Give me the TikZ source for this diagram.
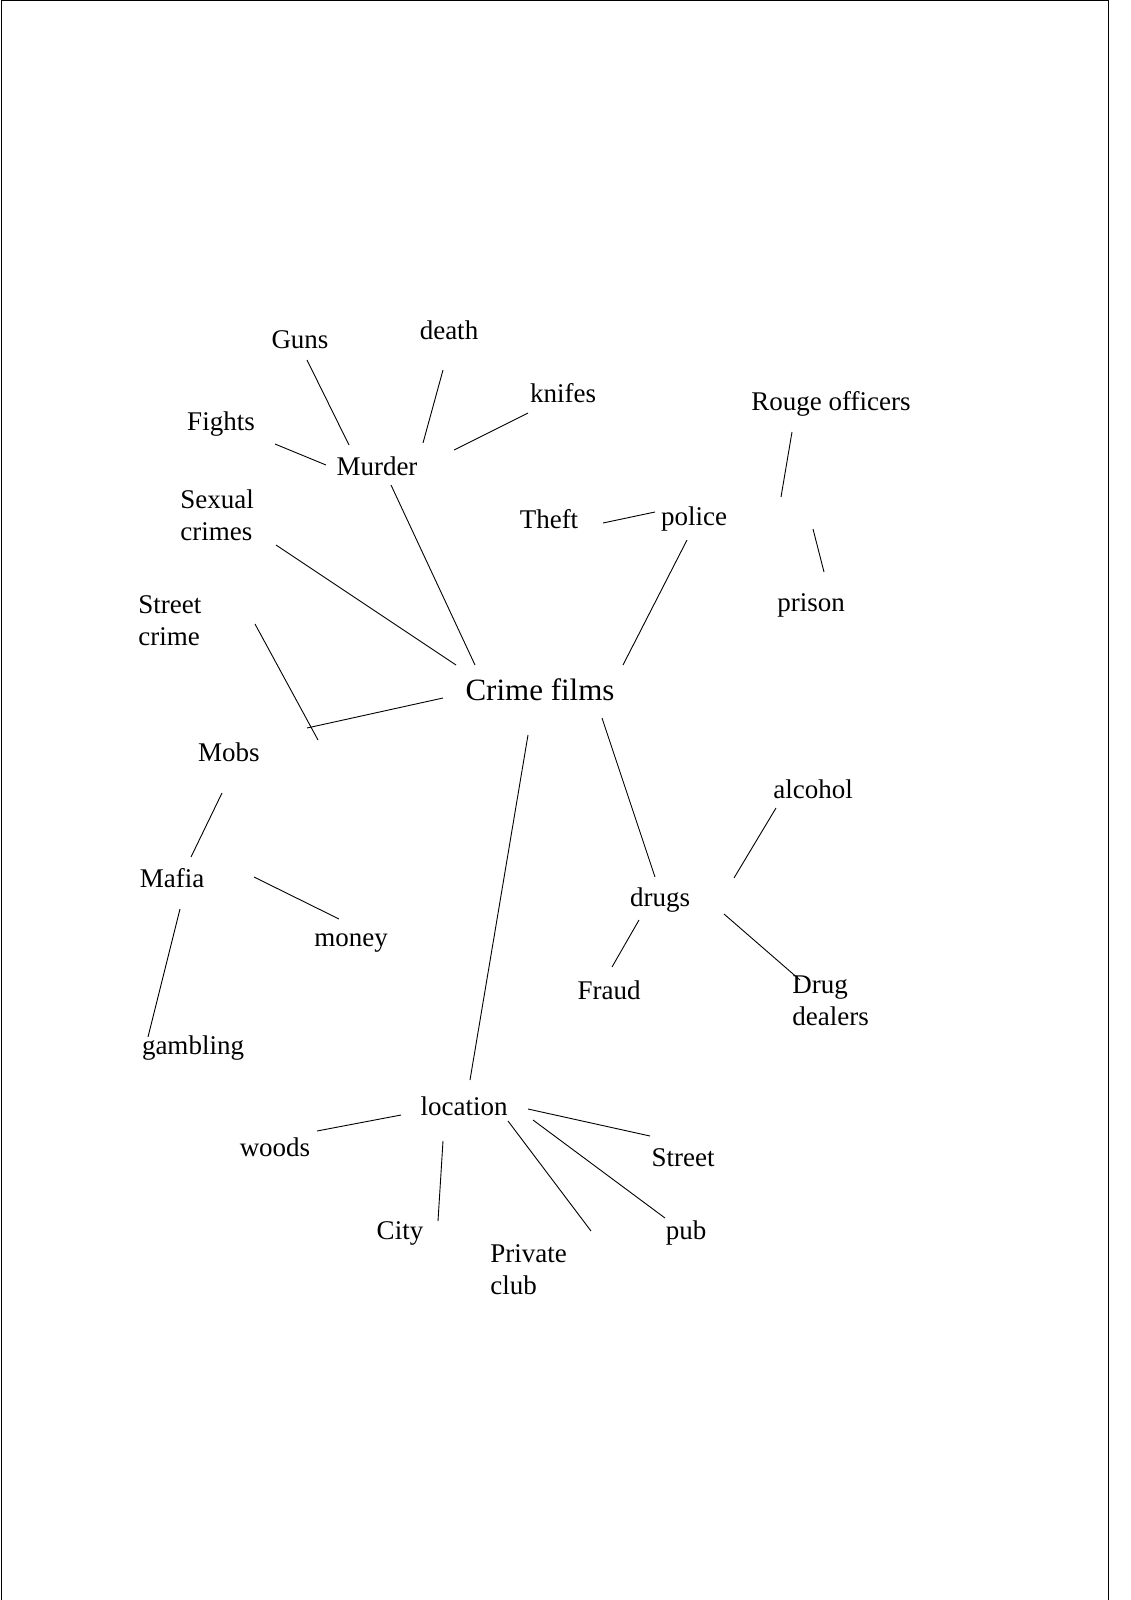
\documentclass[tikz,border=0pt]{standalone}
\usepackage{fontspec}
\setmainfont{Liberation Serif}
\begin{document}
\begin{tikzpicture}[x=1pt,y=-1pt,line width=0.9pt,
  lbl/.style={font=\fontsize{27}{32}\selectfont, inner sep=0pt},
  ml/.style={lbl, align=left, anchor=west}]
\useasboundingbox (0,0) rectangle (1131,1600);
\draw[line width=1pt] (1,1600) -- (1,1) -- (1108,1) -- (1108,1600);
\node[lbl] (guns) at (300,340) {Guns};
\node[lbl] (death) at (449,330) {death};
\node[lbl] (knifes) at (563,393) {knifes};
\node[lbl] (rouge) at (831,404) {Rouge officers};
\node[lbl] (fights) at (221,424) {Fights};
\node[lbl] (murder) at (377,466) {Murder};
\node[ml] (sexual) at (180,515) {Sexual\\crimes};
\node[lbl] (theft) at (549,519) {Theft};
\node[lbl] (police) at (694,519) {police};
\node[ml] (street) at (138,621) {Street\\crime};
\node[lbl] (prison) at (811,605) {prison};
\node[lbl,font=\fontsize{31}{37}\selectfont] (crime) at (540,690) {Crime films};
\node[lbl] (mobs) at (229,752) {Mobs};
\node[lbl] (alcohol) at (813,789) {alcohol};
\node[lbl] (mafia) at (172,878) {Mafia};
\node[lbl] (drugs) at (660,900) {drugs};
\node[lbl] (money) at (351,943) {money};
\node[lbl] (fraud) at (609,990) {Fraud};
\node[ml] (dealers) at (792,1001) {Drug\\dealers};
\node[lbl] (gambling) at (193,1048) {gambling};
\node[lbl] (location) at (464,1106) {location};
\node[lbl] (woods) at (275,1147) {woods};
\node[lbl] (streetl) at (683,1158) {Street};
\node[lbl] (city) at (400,1233) {City};
\node[lbl] (pub) at (686,1233) {pub};
\node[ml] (private) at (490,1270) {Private\\club};
\draw (307,360)--(349,445);
\draw (443,370)--(423,443);
\draw (528,413)--(454,450);
\draw (275,444)--(326,465);
\draw (391,485)--(475,665);
\draw (276,545)--(456,665);
\draw (255,624)--(318,740);
\draw (307,728)--(443,698);
\draw (687,540)--(623,665);
\draw (603,523)--(655,512);
\draw (792,432)--(781,497);
\draw (813,529)--(824,572);
\draw (602,718)--(655,877);
\draw (528,735)--(470,1080);
\draw (776,808)--(734,878);
\draw (639,920)--(612,967);
\draw (724,914)--(800,980);
\draw (222,793)--(191,857);
\draw (254,877)--(339,919);
\draw (180,909)--(148,1037);
\draw (401,1115)--(317,1131);
\draw (443,1141)--(438,1221);
\draw (508,1121)--(591,1231);
\draw (533,1120)--(665,1218);
\draw (528,1109)--(650,1136);
\end{tikzpicture}
\end{document}
